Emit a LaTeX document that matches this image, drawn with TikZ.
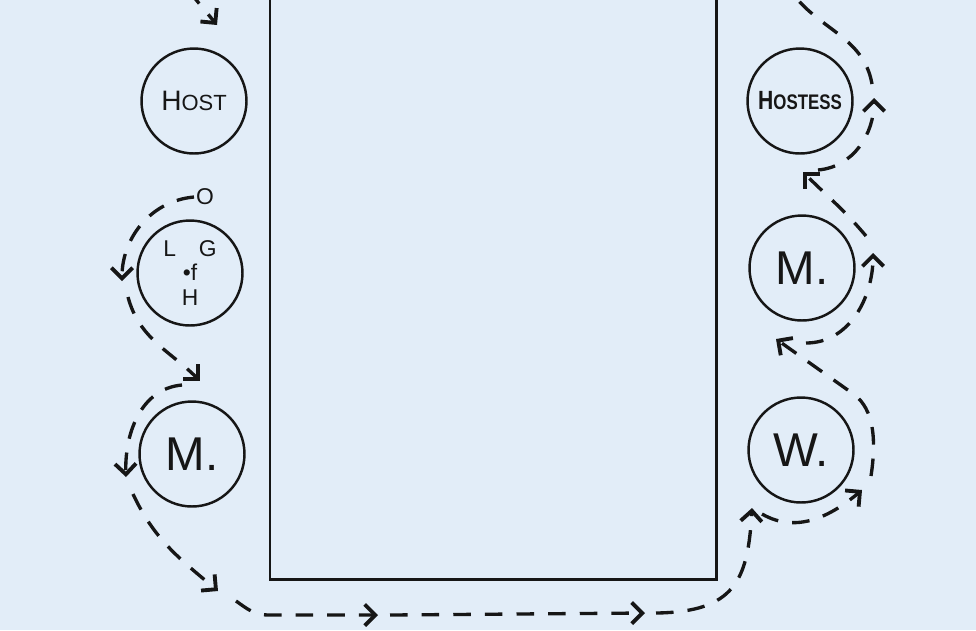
\documentclass[tikz,border=0pt]{standalone}
\usepackage{fontspec}
\setmainfont{Liberation Sans}
\usetikzlibrary{arrows.meta}
\definecolor{paper}{RGB}{226,237,248}
\definecolor{ink}{RGB}{22,22,22}
\tikzset{
  guest/.style={circle, draw=ink, line width=1.4pt, minimum size=2.1cm, inner sep=0pt, text=ink, font=\fontsize{27}{27}\selectfont},
  route/.style={draw=ink, line width=1.9pt, dash pattern=on 10pt off 8pt},
  tip/.style={-{Straight Barb[length=6pt,width=12pt,line width=2.2pt]}}
}
\begin{document}
\begin{tikzpicture}[x=0.02cm,y=-0.02cm]
\useasboundingbox (0,0) rectangle (976,630);
\fill[paper] (0,0) rectangle (976,630);
\clip (0,0) rectangle (976,630);
% table
\draw[ink, line width=1.7pt] (270,-10) -- (270,579) -- (716,579) -- (716,-10);
% guests
\node[guest] (host) at (194,101) {\fontsize{16}{16}\selectfont H\fontsize{12.5}{12.5}\selectfont OST};
\node[guest, align=center, font=\fontsize{13}{14}\selectfont] (lgh) at (190,273) {L\hspace{1em}G\\\textbullet f\\H};
\node[guest] (ml) at (192,454) {M.};
\node[guest] (hostess) at (800,101) {\bfseries\scalebox{0.8}[1]{\fontsize{15}{15}\selectfont H\fontsize{12}{12}\selectfont OSTESS}};
\node[guest] (mr) at (802,268) {M.};
\node[guest] (w) at (801,450) {W.};
\node[text=ink, font=\fontsize{13}{13}\selectfont, inner sep=1pt] (start) at (205,197) {O};
% route coordinates
\coordinate (a0) at (188,-10); \coordinate (a1) at (217,25);
\coordinate (b1) at (122,281);
\coordinate (b2) at (128,297); \coordinate (b3) at (200,381);
\coordinate (b4) at (182,385); \coordinate (b5) at (126,477);
\coordinate (b6) at (133,494); \coordinate (b7) at (218,591);
\coordinate (b8) at (236,601); \coordinate (b9) at (268,615); \coordinate (b10) at (378,615);
\coordinate (b11) at (390,615); \coordinate (b12) at (645,613);
\coordinate (b13) at (656,613); \coordinate (b14) at (752,508);
\coordinate (c1) at (762,514); \coordinate (c2) at (862,490);
\coordinate (c3) at (871,476); \coordinate (c3b) at (852,393); \coordinate (c4) at (776,339);
\coordinate (c5) at (806,343); \coordinate (c6) at (873,253);
\coordinate (c7) at (866,236); \coordinate (c8) at (803,172);
\coordinate (c9) at (818,170); \coordinate (c10) at (874,98);
\coordinate (c11) at (872,84); \coordinate (c12) at (790,-10);
% route
\draw[route,tip] (a0) -- (a1);
\draw[route,tip] (start.west) to[out=185,in=90] (b1);
\draw[route,tip] (b2) to[out=-75,in=135] (b3);
\draw[route,tip] (b4) to[out=185,in=92] (b5);
\draw[route,tip] (b6) to[out=-65,in=140] (b7);
\draw[route,tip] (b8) to[out=-35,in=180] (b9) -- (b10);
\draw[route,tip] (b11) -- (b12);
\draw[route,tip] (b13) .. controls (735,612) and (748,580) .. (b14);
\draw[route,tip] (c1) to[out=-30,in=-140] (c2);
\draw[route,tip] (c3) .. controls (878,430) and (870,405) .. (c3b) -- (c4);
\draw[route,tip] (c5) to[out=0,in=-90] (c6);
\draw[route,tip] (c7) to[out=130,in=-45] (c8);
\draw[route,tip] (c9) to[out=5,in=-90] (c10);
\draw[route] (c11) to[out=100,in=-55] (c12);
\end{tikzpicture}
\end{document}
